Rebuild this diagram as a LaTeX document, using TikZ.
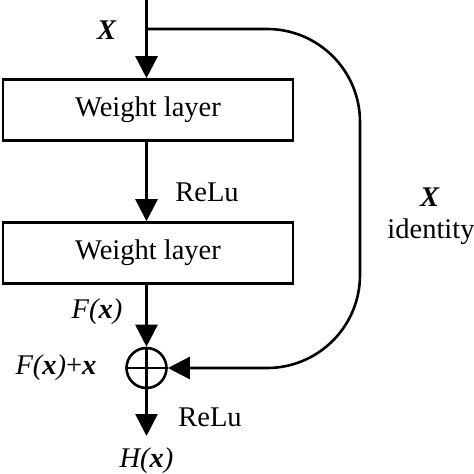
\documentclass[tikz,border=0pt]{standalone}
\usepackage{fontspec}
\setmainfont{Liberation Serif}
\usetikzlibrary{arrows.meta}
\begin{document}
\begin{tikzpicture}[x=1pt,y=-1pt,
  line width=2.6pt,
  every node/.style={font=\fontsize{28.5}{32}\selectfont},
  layerbox/.style={draw, rectangle, minimum width=290pt, minimum height=61pt, inner sep=0pt},
  sumnode/.style={draw, circle, minimum size=40pt, inner sep=0pt},
  arr/.style={-{Triangle[width=22pt,length=22pt]}},
  lbl/.style={inner sep=0pt}]
\useasboundingbox (0,0) rectangle (474,474);
\coordinate (top) at (146.5,0);
\coordinate (split) at (146.5,29);
\node[layerbox] (w1) at (148,110) {Weight layer};
\node[layerbox] (w2) at (148,253) {Weight layer};
\node[sumnode] (plus) at (146.5,368) {};
\coordinate (out) at (146.5,436);
\draw (plus.north) -- (plus.south);
\draw (plus.west) -- (plus.east);
\draw[arr] (top) -- (split) -- (w1.north -| split);
\draw[arr] (w1.south -| split) -- (w2.north -| split);
\draw[arr] (w2.south -| split) -- (plus.north);
\draw[arr] (plus.south) -- (out);
\draw[arr, rounded corners=93pt] (split) -- (360,29) -- (360,368) -- (plus.east);
\node[lbl] (lx) at (107,30) {\textbf{\textit{X}}};
\node[lbl] (relu1) at (207,192) {ReLu};
\node[lbl] (lx2) at (430,197) {\textbf{\textit{X}}};
\node[lbl] (ident) at (431,232) {identity};
\node[lbl] (fx) at (97,312) {\textit{F(\textbf{x})}};
\node[lbl] (fxx) at (56,368) {\textit{F(\textbf{x})}+\textbf{\textit{x}}};
\node[lbl] (relu2) at (210,417) {ReLu};
\node[lbl] (hx) at (146.5,461) {\textit{H(\textbf{x})}};
\end{tikzpicture}
\end{document}
